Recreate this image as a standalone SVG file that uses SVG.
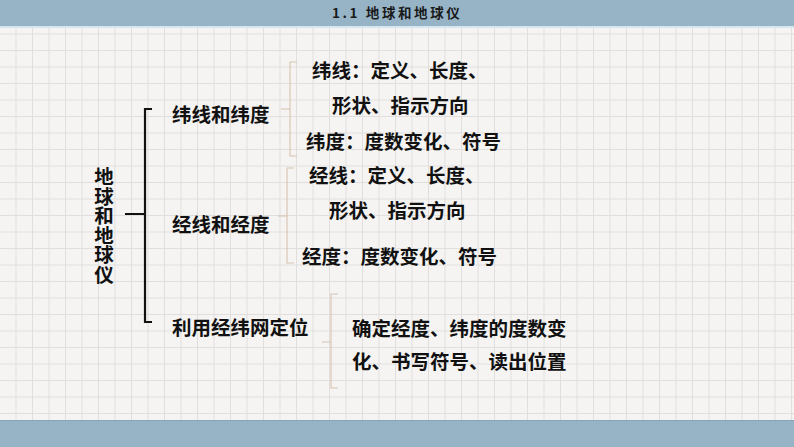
<svg xmlns="http://www.w3.org/2000/svg" width="794" height="447" viewBox="0 0 794 447">
<defs>
<pattern id="grid" x="-1" y="0.5" width="16.5" height="16.5" patternUnits="userSpaceOnUse">
<path d="M0.5 0V16.5M0 0.5H16.5" stroke="#e0dfdd" stroke-width="1" fill="none"/>
</pattern>
<style>
.t{font-family:"Noto Sans CJK SC","Noto Sans CJK JP",sans-serif;font-weight:700;font-size:19.5px;fill:#111}
.v{writing-mode:vertical-rl;text-orientation:upright}
.title{font-family:"Noto Sans CJK SC",sans-serif;font-weight:700;font-size:13.5px;fill:#1a1a1a;letter-spacing:2.6px}
.big{fill:none;stroke:#111;stroke-width:2.2}
.small{fill:none;stroke:#d8c2ae;stroke-width:1.1}
</style>
</defs>
<rect width="794" height="447" fill="#f5f4f2"/>
<rect width="794" height="447" fill="url(#grid)"/>
<g id="header">
<rect x="0" y="0" width="794" height="26" fill="#96b4c6"/>
<rect x="0" y="26" width="794" height="2" fill="#d3e8ec"/>
<text class="title" x="332" y="18">1.1 地球和地球仪</text>
</g>
<g id="footer">
<rect x="0" y="420" width="794" height="27" fill="#96b4c6"/>
<rect x="0" y="420" width="794" height="1" fill="#86a6b8"/>
</g>
<g id="connectors">
<path class="big" d="M152 109H145V322H152M125 214H145"/>
<path class="small" d="M297 62H290V156H297M281 109H290"/>
<path class="small" d="M294 168H287V263H294M278 216H287"/>
<path class="small" d="M338 294H331V388H338M322 342H331"/>
</g>
<g id="root">
<text class="t v" x="104" y="167">地球和地球仪</text>
</g>
<g id="node-weixian"><text class="t" x="172" y="121.5">纬线和纬度</text></g>
<g id="node-jingxian"><text class="t" x="172" y="231.5">经线和经度</text></g>
<g id="node-jingweiwang"><text class="t" x="172" y="335">利用经纬网定位</text></g>
<g id="leaf-wx1"><text class="t" x="312" y="77.5">纬线：定义、长度、</text><text class="t" x="332" y="112.5">形状、指示方向</text></g>
<g id="leaf-wx2"><text class="t" x="306" y="148.5">纬度：度数变化、符号</text></g>
<g id="leaf-jx1"><text class="t" x="309" y="182.5">经线：定义、长度、</text><text class="t" x="329" y="218">形状、指示方向</text></g>
<g id="leaf-jx2"><text class="t" x="302" y="263.5">经度：度数变化、符号</text></g>
<g id="leaf-jww"><text class="t" x="352" y="336">确定经度、纬度的度数变</text><text class="t" x="352" y="368.5">化、书写符号、读出位置</text></g>
</svg>
